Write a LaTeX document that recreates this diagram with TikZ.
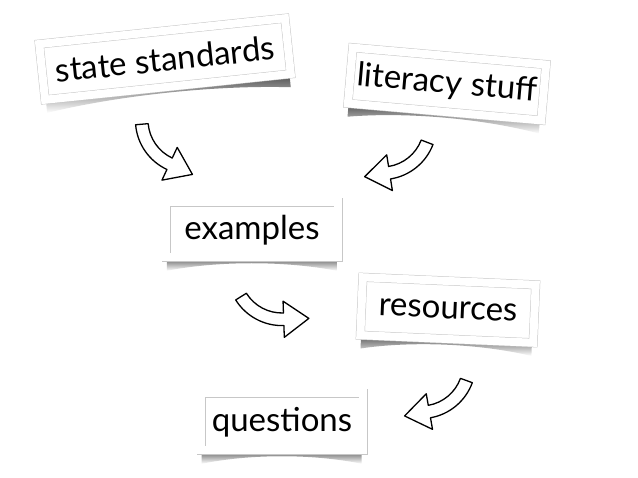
\documentclass[tikz,border=0pt]{standalone}
\usepackage{fontspec}
\setmainfont{Lato}
\usetikzlibrary{calc,fadings}
\pgfdeclarelayer{bg}
\pgfsetlayers{bg,main}

\tikzset{
  card/.style={transform shape, draw=black!22, line width=0.5pt, double=white,
    double distance=8pt, fill=white, inner sep=0pt, font=\fontsize{33}{40}\selectfont},
  cardshadow/.style={fill=black!75, path fading=south},
  arrowline/.style={draw=black, fill=white, line width=1.3pt, line join=round},
  bentarrow/.pic={
    \path[arrowline] (175:1.3) arc[start angle=175, end angle=115, radius=1.3]
      -- (115:1.58) -- ($(115:1.15)+(25:0.6)$) -- (115:0.72) -- (115:1)
      arc[start angle=115, end angle=175, radius=1] -- cycle;
  }
}

% shadow under a card: node name, width
\newcommand\cardshade[2]{%
  \begin{pgfonlayer}{bg}
  \fill[cardshadow] (#1.south west) ++(1,-3) -- ++(0,16)
    .. controls +(#2*0.3,-10) and +(-#2*0.3,-10) .. ++(#2-2,0) -- ++(0,-16) -- cycle;
  \end{pgfonlayer}}

\begin{document}
\begin{tikzpicture}[x=1pt,y=-1pt]
\begin{pgfonlayer}{bg}
\fill[white] (0,0) rectangle (638,478);
\end{pgfonlayer}
\useasboundingbox (0,0) rectangle (638,478);

% cards
\begin{scope}[shift={(165,59)}, rotate=6]
  \node[card, minimum width=247pt, minimum height=56pt] (standards) at (0,0) {state standards};
  \cardshade{standards}{247}
\end{scope}
\begin{scope}[shift={(447,84)}, rotate=-5]
  \node[card, minimum width=194pt, minimum height=56pt] (literacy) at (0,0) {literacy stuff};
  \cardshade{literacy}{194}
\end{scope}
\begin{scope}[shift={(252,230)}]
  \node[card, minimum width=172pt, minimum height=55pt] (examples) at (0,0) {examples};
  \cardshade{examples}{172}
\end{scope}
\begin{scope}[shift={(448,310)}, rotate=-2.5]
  \node[card, minimum width=173pt, minimum height=58pt] (resources) at (0,0) {resources};
  \cardshade{resources}{173}
\end{scope}
\begin{scope}[shift={(282,422)}]
  \node[card, minimum width=162pt, minimum height=57pt] (questions) at (0,0) {questions};
  \cardshade{questions}{162}
\end{scope}

% arrows
\pic[scale=42] at (190,120) {bentarrow};
\pic[rotate=-16, xscale=-1, scale=42] at (382,125) {bentarrow};
\pic[rotate=27, scale=42] at (282,271) {bentarrow};
\pic[rotate=-15, xscale=-1, scale=42] at (421,364) {bentarrow};
\end{tikzpicture}
\end{document}
